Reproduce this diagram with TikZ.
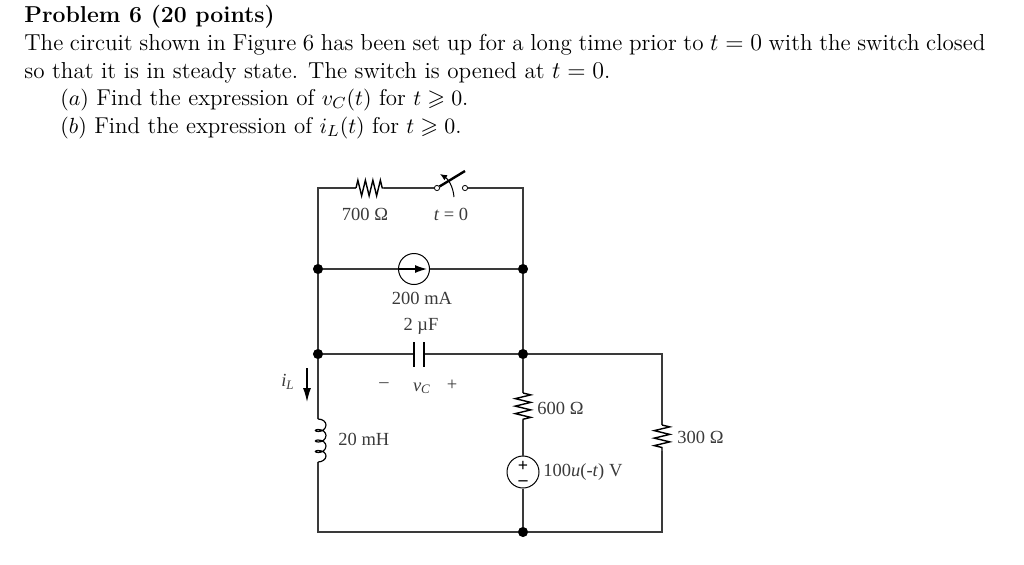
\documentclass[tikz,border=0pt]{standalone}
\usepackage{amsmath}
\usepackage{amssymb}
\usepackage{fontspec}
\usetikzlibrary{arrows.meta, positioning, decorations.pathmorphing, calc}
\newfontfamily\figfont{Liberation Serif}
\definecolor{wire}{HTML}{3A3A3A}
\begin{document}
\begin{tikzpicture}[
		x=.5pt,y=-.5pt,
		txt/.style={anchor=base west,inner sep=0pt,font=\fontsize{11.55}{13}\selectfont},
		qst/.style={txt,font=\fontsize{11.45}{13}\selectfont},
		lbl/.style={inner sep=0pt,text=wire,font=\figfont\fontsize{9.25}{11}\selectfont},
		sgn/.style={inner sep=0pt,align=center,text=black,font=\figfont\bfseries\fontsize{9}{7}\selectfont},
		dot/.style={draw=black,fill=black,circle,inner sep=0pt,minimum size=4.6pt},
		pnt/.style={inner sep=0pt,minimum size=0pt},
		srce/.style={draw=black,fill=white,circle,inner sep=0pt,minimum size=15.5pt,line width=.5pt},
		ctct/.style={draw=black,fill=white,circle,inner sep=0pt,minimum size=2.6pt,line width=.4pt},
		wr/.style={draw=wire,line width=.85pt},
		resi/.style={draw=black,line width=.7pt,decorate,decoration={zigzag,segment length=3.75pt,amplitude=3.9pt}},
		plate/.style={draw=black,line width=1.2pt},
		indu/.style={draw=black,line width=.6pt}
	]
		\useasboundingbox (0,0) rectangle (1024,564);
		% problem text
		\node (titl) [txt,font=\fontsize{11.5}{13}\selectfont\bfseries] at (24,22) {Problem 6 (20 points)};
		\node (lin1) [txt] at (24,50) {\makebox[480.5pt][s]{The circuit shown in Figure 6 has been set up for a long time prior to $t=0$ with the switch closed}};
		\node (lin2) [txt] at (24,78) {so that it is in steady state. The switch is opened at $t=0$.};
		\node (lina) [qst] at (60,105.5) {$(a)$ Find the expression of $v_C(t)$ for $t\geqslant 0$.};
		\node (linb) [qst] at (60,133.5) {$(b)$ Find the expression of $i_L(t)$ for $t\geqslant 0$.};

		% corners and junctions
		\node (topl) [pnt] at (318,188) {};
		\node (topr) [pnt] at (523,188) {};
		\node (midl) [dot] at (318,269) {};
		\node (midr) [dot] at (523,269) {};
		\node (capl) [dot] at (318,354) {};
		\node (capr) [dot] at (523,354) {};
		\node (botl) [pnt] at (318,532) {};
		\node (botm) [dot] at (523,532) {};
		\node (botr) [pnt] at (662,532) {};
		\node (rigt) [pnt] at (662,354) {};

		% elements
		\node (r7a) [pnt] at (356,188) {};
		\node (r7b) [pnt] at (384,188) {};
		\node (swl) [ctct] at (437,188) {};
		\node (swr) [ctct] at (465,188) {};
		\node (swt) [pnt] at (465,171) {};
		\node (swa) [pnt] at (454,197) {};
		\node (swb) [pnt] at (440,174) {};
		\node (isrc) [srce] at (414,269) {};
		\node (isa) [pnt] at (398,269) {};
		\node (isb) [pnt] at (427,269) {};
		\node (c1t) [pnt] at (414,342) {};
		\node (c1b) [pnt] at (414,367) {};
		\node (c2t) [pnt] at (424,342) {};
		\node (c2b) [pnt] at (424,367) {};
		\node (c1m) [pnt] at (414,354) {};
		\node (c2m) [pnt] at (424,354) {};
		\node (l1a) [pnt] at (318,419) {};
		\node (l1b) [pnt] at (318,462) {};
		\node (r6a) [pnt] at (523,393) {};
		\node (r6b) [pnt] at (523,420) {};
		\node (r3a) [pnt] at (662,425) {};
		\node (r3b) [pnt] at (662,451) {};
		\node (vsrc) [srce,minimum size=16pt] at (523,472) {};
		\node (ila) [pnt] at (307,368) {};
		\node (ilb) [pnt] at (307,402) {};

		% labels
		\node (t700) [lbl] at (365,214) {700 Ω};
		\node (tsw) [lbl] at (451,214) {\textit{t} = 0};
		\node (t200) [lbl] at (422,298) {200 mA};
		\node (t2u) [lbl] at (421,326) {2 µF};
		\node (tmin) [lbl] at (384,385) {–};
		\node (tvc) [lbl] at (422,388) {\textit{v}\textsubscript{\textit{C}}};
		\node (tpls) [lbl] at (452,385) {+};
		\node (til) [lbl] at (288,382) {\textit{i}\textsubscript{\textit{L}}};
		\node (t20) [lbl,anchor=west] at (338,439) {20 mH};
		\node (t600) [lbl,anchor=west] at (537,408) {600 Ω};
		\node (t300) [lbl,anchor=west] at (677,437) {300 Ω};
		\node (t100) [lbl,anchor=west] at (543,472) {100\textit{u}(-\textit{t}) V};
		\node (vsgn) [sgn] at (523,473) {+\\–};

		% wires
		\draw [wr] (r7a.center) -- (topl.center) -- (midl);
		\draw [wr] (r7b.center) -- (swl);
		\draw [wr] (swr) -- (topr.center) -- (midr);
		\draw [resi] (r7a.center) -- (r7b.center);
		\draw [wr] (midl) -- (isrc);
		\draw [wr] (isrc) -- (midr);
		\draw [wr] (midl) -- (capl);
		\draw [wr] (midr) -- (capr);
		\draw [wr] (capl) -- (c1m.center);
		\draw [wr] (c2m.center) -- (capr);
		\draw [plate] (c1t.center) -- (c1b.center);
		\draw [plate] (c2t.center) -- (c2b.center);
		\draw [wr] (capr) -- (rigt.center) -- (r3a.center);
		\draw [resi] (r3a.center) -- (r3b.center);
		\draw [wr] (r3b.center) -- (botr.center) -- (botm);
		\draw [wr] (capr) -- (r6a.center);
		\draw [resi] (r6a.center) -- (r6b.center);
		\draw [wr] (r6b.center) -- (vsrc);
		\draw [wr] (vsrc) -- (botm);
		\draw [wr] (botm) -- (botl.center) -- (l1b.center);
		\draw [wr] (l1a.center) -- (capl);
		% coil, three loops and a last bump
		\draw [indu] (l1a.center)
			\foreach \y in {0,10.5,21} {
				.. controls (323,419+\y) and (326,422+\y) .. (326,425+\y)
				.. controls (326,429+\y) and (322,431.5+\y) .. (318.5,431.5+\y)
				.. controls (314.5,431.5+\y) and (314.5,429.5+\y) .. (318,429.5+\y)
			}
			.. controls (323,450.5) and (326,453) .. (326,456)
			.. controls (326,459.5) and (322,462) .. (l1b.center);

		% arrows and switch
		\draw [line width=.6pt,-{Latex[length=6pt,width=4pt]}] (isa.center) -- (isb.center);
		\draw [line width=.6pt,-{Latex[length=7pt,width=4pt]}] (ila.center) -- (ilb.center);
		\draw [line width=1.2pt] (swl) -- (swt.center);
		\draw [line width=.5pt,-{Latex[length=3.5pt,width=3pt]}] (swa.center) .. controls (453,186) and (448,179) .. (swb.center);
	\end{tikzpicture}
\end{document}
